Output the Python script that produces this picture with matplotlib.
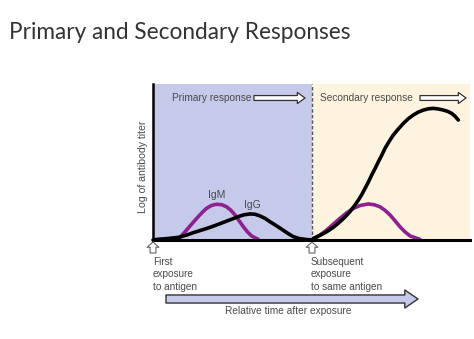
import matplotlib
matplotlib.use("Agg")
import matplotlib.pyplot as plt

# ---- data ----
# time axis 0..100, boundary between primary / secondary at 50
primary_igm_t = [8.0, 9.2, 10.6, 12.2, 13.8, 15.4, 16.9, 18.5, 20.1, 21.7, 23.2, 24.6, 25.9, 27.2, 28.5, 29.8, 31.1, 33.2]
primary_igm_y = [0.4, 3.2, 6.4, 10.2, 13.9, 17.4, 20.3, 22.2, 22.9, 22.6, 21.3, 19.0, 16.0, 12.2, 8.5, 5.2, 2.6, 0.4]

primary_igg_t = [0, 1.2, 4.5, 8.0, 10.5, 12.7, 15.4, 18.0, 20.4, 22.7, 24.9, 26.9, 28.8, 30.6, 32.2, 33.8, 35.4, 36.9, 38.8, 40.6, 42.5, 44.3, 46.2, 48.0, 50]
primary_igg_y = [0, 0.4, 0.9, 1.7, 3.1, 4.7, 6.4, 8.1, 9.9, 11.7, 13.4, 15.0, 16.2, 16.7, 16.5, 15.4, 13.8, 11.7, 9.3, 6.9, 4.3, 2.1, 0.9, 0.4, 0]

secondary_igm_t = [50.6, 52.7, 54.8, 56.9, 59.0, 61.1, 63.2, 65.5, 67.9, 69.8, 71.6, 73.2, 74.8, 76.4, 77.9, 79.5, 81.1, 84.2]
secondary_igm_y = [0.4, 3.2, 6.4, 10.2, 13.9, 17.4, 20.3, 22.2, 23.1, 22.6, 21.3, 19.0, 16.0, 12.2, 8.5, 5.2, 2.6, 0.4]

secondary_igg_t = [50.6, 52.7, 54.8, 57.0, 59.0, 60.6, 62.1, 63.5, 64.8, 65.9, 66.9, 68.0, 69.0, 70.1, 71.1, 72.2, 73.2, 74.5, 75.8, 77.4, 79.0, 80.5, 82.1, 83.7, 85.3, 86.9, 88.4, 90.0, 91.6, 93.0, 94.2, 95.3, 96.3]
secondary_igg_y = [1.1, 3.0, 5.3, 8.3, 11.7, 14.8, 18.1, 21.8, 25.6, 29.3, 33.1, 37.4, 41.7, 46.0, 50.2, 54.5, 58.8, 63.2, 67.3, 71.2, 74.8, 77.7, 80.1, 82.0, 83.3, 84.1, 84.4, 84.0, 83.3, 82.4, 81.2, 79.3, 76.9]

title_text = "Primary and Secondary Responses"
phase_labels = ["Primary response", "Secondary response"]
exposure_labels = ["First\nexposure\nto antigen", "Subsequent\nexposure\nto same antigen"]
x_label = "Relative time after exposure"
y_label = "Log of antibody titer"
curve_labels = ["IgM", "IgG"]

# ---- styling ----
W, H = 474, 339
LAV = "#c5c9ea"
CREAM = "#fdf3df"
PURPLE = "#8e2090"
TXT = "#4a4a4a"

fig = plt.figure(figsize=(W / 100, H / 100), dpi=100)

def fx(px):
    return px / W

def fy(py):
    return 1 - py / H

ax_l, ax_r, ax_t, ax_b = 153, 470, 84, 240
ax = fig.add_axes([fx(ax_l), fy(ax_b), (ax_r - ax_l) / W, (ax_b - ax_t) / H])
ax.set_xlim(0, 100)
ax.set_ylim(0, 100)
ax.axvspan(0, 50, color=LAV, lw=0, zorder=0)
ax.axvspan(50, 100, color=CREAM, lw=0, zorder=0)
ax.axvline(50, color="#555555", lw=1, ls=(0, (2.5, 1.5)), zorder=1)
ax.set_xticks([])
ax.set_yticks([])
for s in ["top", "right"]:
    ax.spines[s].set_visible(False)
ax.spines["left"].set_linewidth(1.8)
ax.spines["bottom"].set_linewidth(2.2)
ax.spines["left"].set_zorder(5)
ax.spines["bottom"].set_zorder(5)

lw = 2.6
kw = dict(lw=lw, solid_capstyle="round", solid_joinstyle="round", clip_on=False)
ax.plot(primary_igm_t, primary_igm_y, color=PURPLE, zorder=3, **kw)
ax.plot(primary_igg_t, primary_igg_y, color="black", zorder=3, **kw)
ax.plot(secondary_igm_t, secondary_igm_y, color=PURPLE, zorder=3, **kw)
ax.plot(secondary_igg_t, secondary_igg_y, color="black", zorder=4, **kw)

FONT = "Liberation Sans"
# curve labels
fig.text(fx(217), fy(195), curve_labels[0], ha="center", va="center", fontsize=7.5, color=TXT, family=FONT)
fig.text(fx(252), fy(205), curve_labels[1], ha="center", va="center", fontsize=7.5, color=TXT, family=FONT)

# phase labels
fig.text(fx(172), fy(98), phase_labels[0], ha="left", va="center", fontsize=7.3, color=TXT, family=FONT)
fig.text(fx(320), fy(98), phase_labels[1], ha="left", va="center", fontsize=7.3, color=TXT, family=FONT)

def arrow(x0, y0, x1, y1, fc, ec, hl, hw, tw, lw_=0.9):
    fig.patches.append(
        matplotlib.patches.FancyArrowPatch(
            (fx(x0), fy(y0)), (fx(x1), fy(y1)), transform=fig.transFigure,
            arrowstyle=f"simple,head_length={hl},head_width={hw},tail_width={tw}",
            mutation_scale=10, fc=fc, ec=ec, lw=lw_, shrinkA=0, shrinkB=0, zorder=6)
    )

arrow(254, 98, 305, 98, "white", "#333333", 0.55, 0.8, 0.35)
arrow(420, 98, 466, 98, "white", "#333333", 0.55, 0.8, 0.35)

# up arrows at exposures
arrow(153, 253, 153, 242, "white", "#666666", 0.38, 0.85, 0.42, 0.8)
arrow(312, 253, 312, 242, "white", "#666666", 0.38, 0.85, 0.42, 0.8)

# exposure labels
fig.text(fx(153), fy(257), exposure_labels[0], ha="left", va="top", fontsize=7.2, color=TXT, family=FONT, linespacing=1.3)
fig.text(fx(311), fy(257), exposure_labels[1], ha="left", va="top", fontsize=7.2, color=TXT, family=FONT, linespacing=1.3)

# time arrow
arrow(166, 299, 418, 299, LAV, "#333333", 0.95, 1.3, 0.58, 1.0)
fig.text(fx(288), fy(311), x_label, ha="center", va="center", fontsize=7.3, color=TXT, family=FONT)

# y label
fig.text(fx(143), fy(167), y_label, ha="center", va="center", rotation=90, fontsize=7.6, color=TXT, family=FONT)

# title
fig.text(fx(9), fy(39), title_text, ha="left", va="baseline", fontsize=16.3, color="#333333", family="Lato")

fig.savefig("out.png", dpi=100)
